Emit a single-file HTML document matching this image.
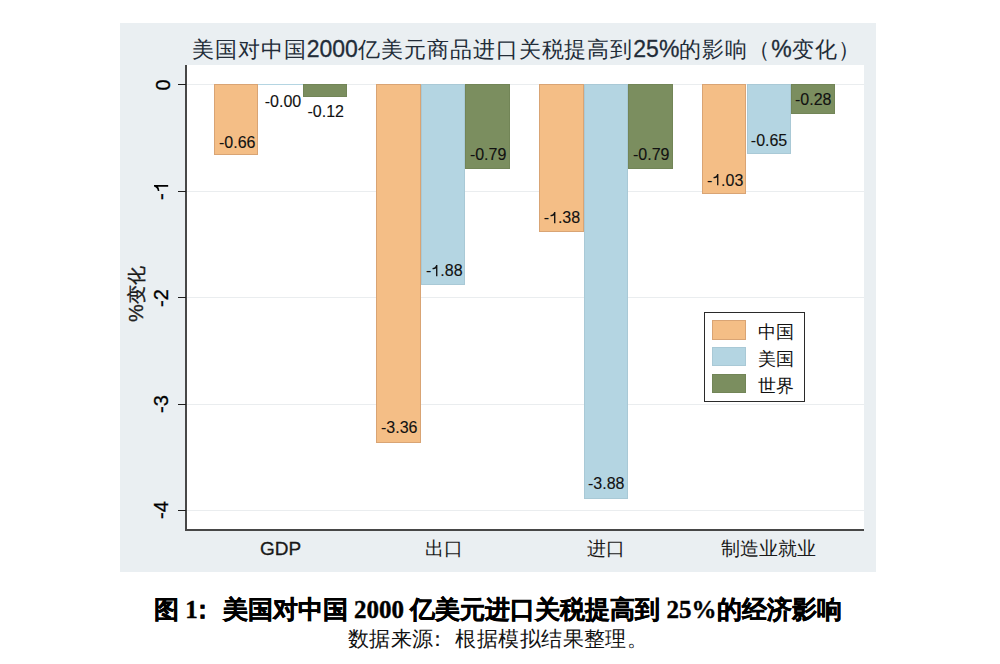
<!DOCTYPE html>
<html>
<head>
<meta charset="utf-8">
<style>
html,body{margin:0;padding:0;background:#fff;}
body{width:1000px;height:664px;position:relative;overflow:hidden;font-family:"Liberation Sans",sans-serif;}
.a{position:absolute;}
#outer{left:120px;top:23px;width:756px;height:549px;background:#eaeff2;}
#plot{left:186px;top:65px;width:678px;height:465px;background:#fff;}
.grid{position:absolute;left:186px;width:678px;height:1px;background:#eaedef;}
#yaxis{left:185px;top:65px;width:1.5px;height:465.5px;background:#474747;}
#xaxis{left:185px;top:529px;width:679px;height:1.5px;background:#474747;}
.tick{position:absolute;left:178px;width:8px;height:1.3px;background:#1e1e1e;}
.yl{position:absolute;font-size:20px;color:#000;-webkit-text-stroke:0.3px #000;transform:rotate(-90deg);transform-origin:center center;white-space:nowrap;}
.bar{position:absolute;box-sizing:border-box;}
.cn{background:#f4be86;border:1px solid #d9a474;}
.us{background:#b4d5e2;border:1px solid #a9c9d6;}
.wd{background:#7b8e5f;border:1px solid #728557;}
.vl{position:absolute;font-size:16px;letter-spacing:0px;color:#111;-webkit-text-stroke:0.12px #111;white-space:nowrap;line-height:1;}
.xl{position:absolute;font-size:19px;color:#1a1a1a;white-space:nowrap;line-height:1;}
.dg{font-size:23px;letter-spacing:0;-webkit-text-stroke:0.3px #222c38;}
.one{display:inline-block;width:0.556em;height:0.709em;vertical-align:baseline;fill:currentColor;overflow:visible}
</style>
</head>
<body>
<div class="a" id="outer"></div>
<div class="a" id="plot"></div>
<div class="grid" style="top:84px"></div>
<div class="grid" style="top:191px"></div>
<div class="grid" style="top:297px"></div>
<div class="grid" style="top:404px"></div>
<div class="grid" style="top:510px"></div>

<!-- bars -->
<div class="bar cn" style="left:214.2px;top:84px;width:44.2px;height:70.5px"></div>
<div class="bar us" style="left:258.4px;top:84px;width:44.2px;height:1px;border:0"></div>
<div class="bar wd" style="left:302.6px;top:84px;width:44.2px;height:13.2px"></div>
<div class="bar cn" style="left:376.1px;top:84px;width:44.6px;height:358.5px"></div>
<div class="bar us" style="left:420.7px;top:84px;width:44.6px;height:200.5px"></div>
<div class="bar wd" style="left:465.2px;top:84px;width:44.6px;height:84.7px"></div>
<div class="bar cn" style="left:539.2px;top:84px;width:44.6px;height:147.5px"></div>
<div class="bar us" style="left:583.8px;top:84px;width:44.6px;height:414.5px"></div>
<div class="bar wd" style="left:628.3px;top:84px;width:44.6px;height:84.7px"></div>
<div class="bar cn" style="left:702.2px;top:84px;width:44.3px;height:109.7px"></div>
<div class="bar us" style="left:746.5px;top:84px;width:44.3px;height:69.5px"></div>
<div class="bar wd" style="left:790.8px;top:84px;width:44.3px;height:30.3px"></div>

<div class="a" id="yaxis"></div>
<div class="a" id="xaxis"></div>
<div class="tick" style="top:84px"></div>
<div class="tick" style="top:191px"></div>
<div class="tick" style="top:297px"></div>
<div class="tick" style="top:404px"></div>
<div class="tick" style="top:510px"></div>

<!-- y labels -->
<div class="yl" style="left:143px;top:73.7px;width:40px;height:22px;line-height:22px;text-align:center">0</div>
<div class="yl" style="left:141px;top:180px;width:40px;height:22px;line-height:22px;text-align:center">-<svg class="one" viewBox="0 0 556 709" preserveAspectRatio="none"><path d="M400,0 L400,709 L316,709 L316,200 C270,238 190,262 96,268 L96,192 C205,182 290,112 324,0 Z"/></svg></div>
<div class="yl" style="left:141px;top:287px;width:40px;height:22px;line-height:22px;text-align:center">-2</div>
<div class="yl" style="left:141px;top:393px;width:40px;height:22px;line-height:22px;text-align:center">-3</div>
<div class="yl" style="left:141px;top:499px;width:40px;height:22px;line-height:22px;text-align:center">-4</div>
<div class="yl" style="left:96px;top:283px;width:80px;height:22px;line-height:22px;text-align:center;font-size:19px;color:#222"><span style="font-size:20px;-webkit-text-stroke:0.3px #222">%</span>变化</div>

<!-- title -->
<div class="a" id="title" style="left:192px;top:36px;font-size:21.5px;letter-spacing:0.95px;color:#222c38;white-space:nowrap;line-height:26px">美国对中国<span class="dg">2000</span>亿美元商品进口关税提高到<span class="dg">25%</span>的影响（<span class="dg">%</span>变化）</div>

<!-- value labels -->
<div class="vl" style="left:219px;top:134.50px">-0.66</div>
<div class="vl" style="left:264.75px;top:94.00px">-0.00</div>
<div class="vl" style="left:307.5px;top:103.75px">-0.12</div>
<div class="vl" style="left:381px;top:420.00px">-3.36</div>
<div class="vl" style="left:426.1px;top:263.00px">-<svg class="one" viewBox="0 0 556 709" preserveAspectRatio="none"><path d="M400,0 L400,709 L316,709 L316,200 C270,238 190,262 96,268 L96,192 C205,182 290,112 324,0 Z"/></svg>.88</div>
<div class="vl" style="left:469.9px;top:147.40px">-0.79</div>
<div class="vl" style="left:543.7px;top:210.10px">-<svg class="one" viewBox="0 0 556 709" preserveAspectRatio="none"><path d="M400,0 L400,709 L316,709 L316,200 C270,238 190,262 96,268 L96,192 C205,182 290,112 324,0 Z"/></svg>.38</div>
<div class="vl" style="left:588px;top:476.30px">-3.88</div>
<div class="vl" style="left:633px;top:147.40px">-0.79</div>
<div class="vl" style="left:706.9px;top:172.80px">-<svg class="one" viewBox="0 0 556 709" preserveAspectRatio="none"><path d="M400,0 L400,709 L316,709 L316,200 C270,238 190,262 96,268 L96,192 C205,182 290,112 324,0 Z"/></svg>.03</div>
<div class="vl" style="left:750.8px;top:132.90px">-0.65</div>
<div class="vl" style="left:795px;top:92.40px">-0.28</div>

<!-- x labels -->
<div class="xl" style="left:260px;top:538.5px;-webkit-text-stroke:0.3px #111">GDP</div>
<div class="xl" style="left:425px;top:539px">出口</div>
<div class="xl" style="left:587px;top:539px">进口</div>
<div class="xl" style="left:721px;top:539px">制造业就业</div>

<!-- legend -->
<div class="a" style="left:704px;top:312px;width:101px;height:90px;background:#fff;border:1.5px solid #2a2a2a;box-sizing:border-box"></div>
<div class="bar cn" style="left:712px;top:320px;width:34px;height:19.5px"></div>
<div class="bar us" style="left:712px;top:347px;width:34px;height:19px"></div>
<div class="bar wd" style="left:712px;top:374px;width:34px;height:19px"></div>
<div class="a" style="left:758px;top:322px;font-size:18px;color:#111;line-height:20px">中国</div>
<div class="a" style="left:758px;top:349px;font-size:18px;color:#111;line-height:20px">美国</div>
<div class="a" style="left:758px;top:376px;font-size:18px;color:#111;line-height:20px">世界</div>

<!-- caption -->
<div class="a" style="left:154px;top:595.8px;font-family:'Liberation Serif',serif;font-weight:bold;font-size:25px;color:#000;-webkit-text-stroke:0.4px #000;white-space:nowrap;line-height:28px">图 1<span style="position:relative;left:-8px">：</span>美国对中国 2000 亿美元进口关税提高到 25%的经济影响</div>
<div class="a" style="left:348px;top:626px;font-size:21px;letter-spacing:0.45px;color:#111;white-space:nowrap;line-height:26px">数据来源<span style="position:relative;left:-7px">：</span>根据模拟结果整理。</div>
</body>
</html>
